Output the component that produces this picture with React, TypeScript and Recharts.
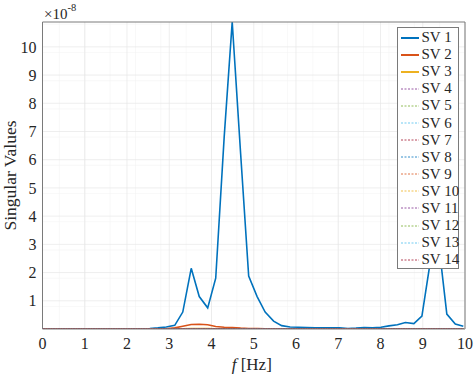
import React from 'react';
import { LineChart, Line, XAxis, YAxis, CartesianGrid } from 'recharts';

// frequency bins (Hz), ~0.195 Hz spacing
const freq = [
  0, 0.2, 0.39, 0.59, 0.78, 0.98, 1.17, 1.37, 1.56, 1.76, 1.95, 2.15, 2.34,
  2.54, 2.73, 2.93, 3.13, 3.32, 3.52, 3.71, 3.91, 4.1, 4.3, 4.49, 4.69, 4.88,
  5.08, 5.27, 5.47, 5.66, 5.86, 6.05, 6.25, 6.45, 6.64, 6.84, 7.03, 7.23,
  7.42, 7.62, 7.81, 8.01, 8.2, 8.4, 8.59, 8.79, 8.98, 9.18, 9.38, 9.57, 9.77,
  9.96,
];

// singular values, x 1e-8
const sv1 = [
  0.01, 0.01, 0.01, 0.01, 0.01, 0.01, 0.01, 0.01, 0.01, 0.01, 0.01, 0.01, 0.01,
  0.02, 0.04, 0.07, 0.13, 0.6, 2.15, 1.15, 0.75, 1.8, 6.8, 10.88, 6.2, 1.88,
  1.15, 0.6, 0.28, 0.12, 0.07, 0.06, 0.05, 0.04, 0.04, 0.04, 0.04, 0.02,
  0.03, 0.05, 0.04, 0.06, 0.11, 0.15, 0.23, 0.19, 0.46, 2.4, 3.0, 0.53, 0.18,
  0.1,
];
const sv2 = [
  0, 0, 0, 0, 0, 0, 0, 0, 0, 0, 0, 0, 0,
  0, 0.01, 0.01, 0.04, 0.1, 0.16, 0.17, 0.15, 0.09, 0.06, 0.05, 0.03, 0.02,
  0.02, 0.01, 0.01, 0.01, 0.01, 0.01, 0.01, 0.01, 0.01, 0.01, 0.01, 0.01,
  0.01, 0.01, 0.01, 0.01, 0.01, 0.01, 0.01, 0.01, 0.01, 0.01, 0.01, 0.01, 0.01,
  0.01,
];
const sv3 = [
  0, 0, 0, 0, 0, 0, 0, 0, 0, 0, 0, 0, 0,
  0, 0, 0, 0.01, 0.01, 0.02, 0.02, 0.02, 0.01, 0.01, 0.01, 0.01, 0.01,
  0, 0, 0, 0, 0, 0, 0, 0, 0, 0, 0, 0,
  0, 0, 0, 0, 0, 0, 0, 0, 0, 0, 0, 0, 0,
  0,
];
// SV 4..14 sit on the floor
const svFloor = [
  0, 0, 0, 0, 0, 0, 0, 0, 0, 0, 0, 0, 0,
  0, 0, 0, 0, 0, 0, 0, 0, 0, 0, 0, 0, 0,
  0, 0, 0, 0, 0, 0, 0, 0, 0, 0, 0, 0,
  0, 0, 0, 0, 0, 0, 0, 0, 0, 0, 0, 0, 0,
  0,
];

const seriesNames = [
  'SV 1', 'SV 2', 'SV 3', 'SV 4', 'SV 5', 'SV 6', 'SV 7',
  'SV 8', 'SV 9', 'SV 10', 'SV 11', 'SV 12', 'SV 13', 'SV 14',
];
const seriesValues = [
  sv1, sv2, sv3, svFloor, svFloor, svFloor, svFloor,
  svFloor, svFloor, svFloor, svFloor, svFloor, svFloor, svFloor,
];

const xTicks = [0, 1, 2, 3, 4, 5, 6, 7, 8, 9, 10];
const yTicks = [1, 2, 3, 4, 5, 6, 7, 8, 9, 10];

const palette = ['#0072BD', '#D95319', '#EDB120', '#7E2F8E', '#77AC30', '#4DBEEE', '#A2142F'];
const axisColor = '#7a7a7a';
const textColor = '#262626';
const font = '"Liberation Serif", "Times New Roman", serif';

const data = freq.map((f, i) => {
  const row: any = { f };
  seriesNames.forEach((n, s) => { row[n] = seriesValues[s][i]; });
  return row;
});

const minorX: number[] = [];
for (let v = 0; v <= 10.001; v += 0.2) minorX.push(+v.toFixed(1));
const minorY: number[] = [];
for (let v = 0; v <= 10.9; v += 0.2) minorY.push(+v.toFixed(1));

const W = 474;
const H = 376;

const XLabel = (props: any) => {
  const { viewBox } = props;
  const cx = viewBox.x + viewBox.width / 2 - 2;
  return (
    <text x={cx} y={370} textAnchor="middle" fontSize={17} fill={textColor} fontFamily={font}>
      <tspan fontStyle="italic">f</tspan>
      <tspan> [Hz]</tspan>
    </text>
  );
};

const YLabel = (props: any) => {
  const { viewBox } = props;
  const cy = viewBox.y + viewBox.height / 2;
  return (
    <text
      x={15.5}
      y={cy}
      transform={`rotate(-90, 15.5, ${cy})`}
      textAnchor="middle"
      fontSize={17.5}
      fill={textColor}
      fontFamily={font}
    >
      Singular Values
    </text>
  );
};

const Legend14 = () => (
  <div
    style={{
      position: 'absolute',
      left: 397,
      top: 27,
      width: 62,
      height: 242,
      background: '#fff',
      border: `1px solid ${axisColor}`,
      boxSizing: 'border-box',
      paddingTop: 1,
    }}
  >
    {seriesNames.map((name, i) => {
      const color = palette[i % palette.length];
      const solid = i < 3;
      return (
        <div key={name} style={{ display: 'flex', alignItems: 'center', height: 17.1 }}>
          <svg width={21} height={10} style={{ marginLeft: 2.5, flex: 'none' }}>
            <line
              x1={0}
              x2={18}
              y1={5}
              y2={5}
              stroke={color}
              strokeWidth={solid ? 2 : 0.8}
              strokeDasharray={solid ? undefined : '2 1.5'}
            />
          </svg>
          <span style={{ fontFamily: font, fontSize: 15, color: textColor, lineHeight: '17px', whiteSpace: 'nowrap' }}>
            {name}
          </span>
        </div>
      );
    })}
  </div>
);

export default function App() {
  return (
    <div style={{ position: 'absolute', left: 0, top: 0, width: W, height: H, background: '#fff' }}>
      <LineChart
        width={W}
        height={H}
        data={data}
        margin={{ top: 22, right: 9, bottom: 17, left: 0 }}
      >
        <CartesianGrid
          xAxisId={0}
          yAxisId={0}
          stroke="#f4f4f4"
          strokeWidth={0.6}
          horizontalValues={minorY}
          verticalValues={minorX}
        />
        <CartesianGrid
          xAxisId={0}
          yAxisId={0}
          stroke="#e6e6e6"
          strokeWidth={0.7}
          horizontalValues={yTicks}
          verticalValues={xTicks}
        />
        <XAxis
          xAxisId={0}
          dataKey="f"
          type="number"
          domain={[0, 10]}
          ticks={xTicks}
          allowDataOverflow
          height={30}
          tickLine={false}
          tickSize={0}
          tickMargin={9}
          axisLine={{ stroke: axisColor }}
          tick={{ fill: textColor, fontSize: 16, fontFamily: font }}
          label={<XLabel />}
        />
        <XAxis
          xAxisId="xin"
          dataKey="f"
          type="number"
          domain={[0, 10]}
          ticks={xTicks}
          mirror
          tick={false}
          tickSize={4}
          axisLine={false}
          tickLine={{ stroke: axisColor }}
        />
        <XAxis
          xAxisId="xtop"
          orientation="top"
          dataKey="f"
          type="number"
          domain={[0, 10]}
          ticks={xTicks}
          mirror
          tick={false}
          tickSize={4}
          axisLine={{ stroke: axisColor }}
          tickLine={{ stroke: axisColor }}
        />
        <YAxis
          yAxisId={0}
          type="number"
          domain={[0, 10.88]}
          ticks={yTicks}
          allowDataOverflow
          width={42.5}
          tickLine={false}
          tickSize={0}
          tickMargin={6}
          axisLine={{ stroke: axisColor }}
          tick={{ fill: textColor, fontSize: 16, fontFamily: font }}
          label={<YLabel />}
        />
        <YAxis
          yAxisId="yin"
          type="number"
          domain={[0, 10.88]}
          ticks={yTicks}
          mirror
          tick={false}
          tickSize={4}
          axisLine={false}
          tickLine={{ stroke: axisColor }}
        />
        <YAxis
          yAxisId="yright"
          orientation="right"
          type="number"
          domain={[0, 10.88]}
          ticks={yTicks}
          mirror
          tick={false}
          tickSize={4}
          axisLine={{ stroke: axisColor }}
          tickLine={{ stroke: axisColor }}
        />
        {seriesNames.map((name, i) => {
          const solid = i < 3;
          return (
            <Line
              key={name}
              xAxisId={0}
              yAxisId={0}
              dataKey={name}
              type="linear"
              stroke={palette[i % palette.length]}
              strokeWidth={solid ? 1.6 : 1.3}
              strokeDasharray={solid ? undefined : '3 2'}
              strokeDashoffset={i === 6 ? 2.5 : 0}
              dot={false}
              activeDot={false}
              isAnimationActive={false}
            />
          );
        })}
        <text x={44} y={18.5} fontSize={15} fill={textColor} fontFamily={font}>
          ×10
          <tspan dy={-8} fontSize={10.5}>-8</tspan>
        </text>
      </LineChart>
      <Legend14 />
    </div>
  );
}
